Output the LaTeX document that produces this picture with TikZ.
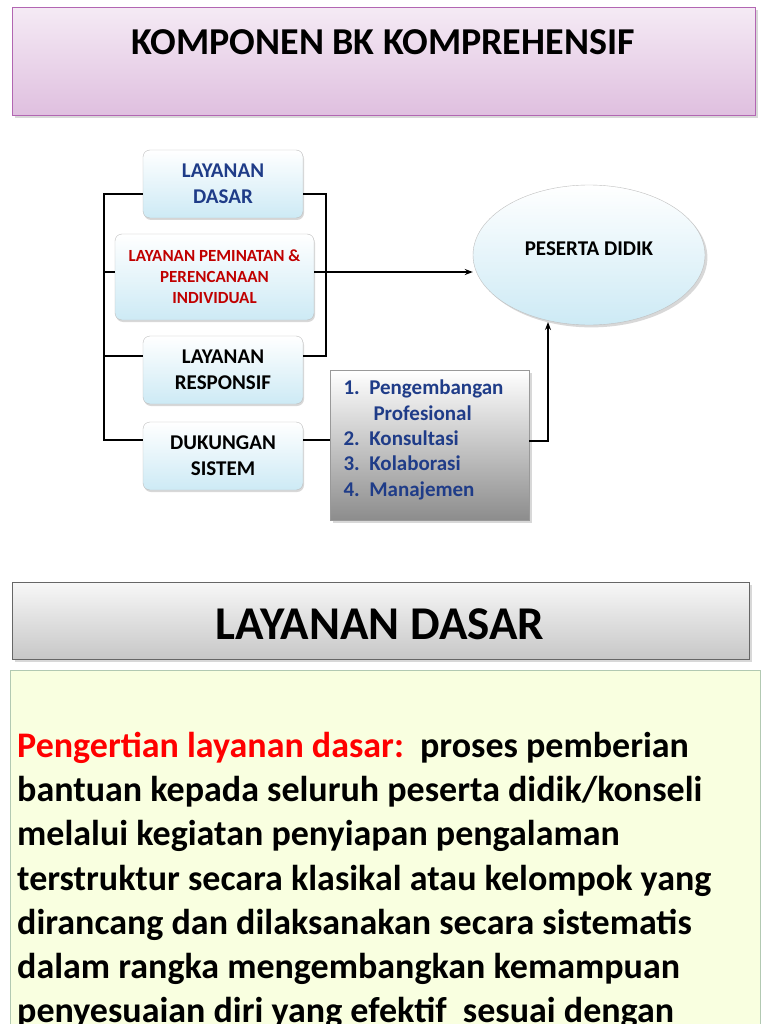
\documentclass[tikz,border=0pt]{standalone}
\usepackage{fontspec}
\setmainfont{Carlito}
\usetikzlibrary{arrows.meta,shadows,shapes.geometric}
\definecolor{dblue}{HTML}{1F3C88}
\definecolor{dred}{HTML}{C00000}
\definecolor{lcyan}{HTML}{CDEAF5}
\tikzset{
 bluebox/.style={draw=black!25,rounded corners=7pt,top color=white,bottom color=lcyan,align=center,font=\bfseries\fontsize{21}{26}\selectfont,drop shadow={opacity=0.3,shadow xshift=1pt,shadow yshift=-2pt}},
 conn/.style={line width=2pt,black},
 txt/.style={anchor=base west,font=\bfseries\fontsize{36}{40}\selectfont,inner sep=0}
}
\begin{document}
\begin{tikzpicture}[x=1pt,y=-1pt]
\useasboundingbox (0,0) rectangle (768,1024);
\fill[white] (0,0) rectangle (768,1024);
\node[draw=violet!60,top color=violet!8,bottom color=violet!25,minimum width=743,minimum height=108,anchor=north west,drop shadow={opacity=0.3}] (title) at (12,7) {};
\node[font=\bfseries\fontsize{38}{40}\selectfont] at (383,42) {KOMPONEN BK KOMPREHENSIF};
\node[bluebox,text=dblue,minimum width=160,minimum height=68] (ld) at (223,184) {LAYANAN\\DASAR};
\node[bluebox,text=dred,minimum width=199,minimum height=86,font=\bfseries\fontsize{17}{21}\selectfont] (lp) at (214.5,277) {LAYANAN PEMINATAN \&\\PERENCANAAN\\INDIVIDUAL};
\node[bluebox,minimum width=160,minimum height=68] (lr) at (223,370) {LAYANAN\\RESPONSIF};
\node[bluebox,minimum width=160,minimum height=68] (ds) at (223,456) {DUKUNGAN\\SISTEM};
\node[draw=black!25,ellipse,top color=white,bottom color=lcyan,minimum width=232,minimum height=140,drop shadow={opacity=0.3}] (pd) at (589,255) {};
\node[font=\bfseries\fontsize{21}{24}\selectfont] at (589,249) {PESERTA DIDIK};
\node[draw=black!40,top color=white,bottom color=black!45,minimum width=199,minimum height=150,anchor=north west,drop shadow={opacity=0.3}] (gb) at (330,370) {};
\begin{scope}[font=\bfseries\fontsize{21}{24}\selectfont,text=dblue]
\node[anchor=base west] at (340,394) {1.\ \ Pengembangan};
\node[anchor=base west] at (370,420) {Profesional};
\node[anchor=base west] at (340,445) {2.\ \ Konsultasi};
\node[anchor=base west] at (340,470) {3.\ \ Kolaborasi};
\node[anchor=base west] at (340,496) {4.\ \ Manajemen};
\end{scope}
\coordinate (l1) at (104,194); \coordinate (l4) at (104,440);
\draw[conn] (ld.west|-l1) -- (l1) -- (l4) -- (ds.west|-l4);
\draw[conn] (104,272) -- (lp.west|-0,272);
\draw[conn] (104,356) -- (lr.west|-0,356);
\draw[conn] (ld.east|-l1) -- (326,194) -- (326,356) -- (lr.east|-0,356);
\draw[conn,-{Stealth[length=8pt]}] (lp.east|-0,272) -- (pd.west|-0,272);
\draw[conn] (ds.east|-0,440) -- (gb.west|-0,440);
\draw[conn,-{Stealth[length=8pt]}] (gb.east|-0,441) -- (548,441) -- (548,322);
\node[draw=black!60,top color=black!3,bottom color=black!22,minimum width=737,minimum height=77,anchor=north west,drop shadow={opacity=0.3}] (ban) at (12,582) {};
\node[font=\bfseries\fontsize{47}{50}\selectfont] at (380,624) {LAYANAN DASAR};
\node[draw=green!30!black!30,fill=green!20!yellow!12,minimum width=750,minimum height=370,anchor=north west] (gr) at (10,670) {};
\node[txt] at (17,757) {\textcolor{red}{Pengertian layanan dasar:}\ \ proses pemberian};
\node[txt] at (17,801) {bantuan kepada seluruh peserta didik/konseli};
\node[txt] at (17,845) {melalui kegiatan penyiapan pengalaman};
\node[txt] at (17,890) {terstruktur secara klasikal atau kelompok yang};
\node[txt] at (17,934) {dirancang dan dilaksanakan secara sistematis};
\node[txt] at (17,978) {dalam rangka mengembangkan kemampuan};
\node[txt] at (17,1022) {penyesuaian diri yang efektif\ \ sesuai dengan};
\end{tikzpicture}
\end{document}
